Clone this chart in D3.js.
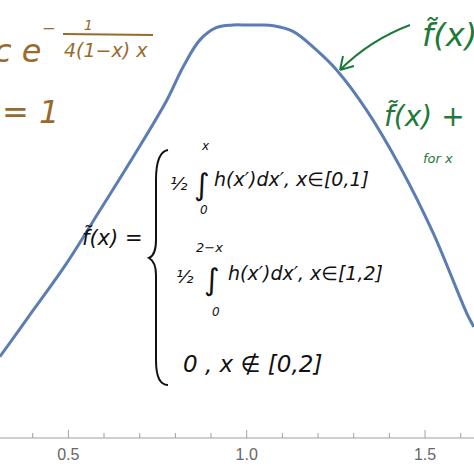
<!DOCTYPE html>
<html><head><meta charset="utf-8">
<script src="https://cdn.jsdelivr.net/npm/d3@7"></script>
<style>body{margin:0;background:#fff}svg{display:block}</style>
</head><body>
<svg id="chart" width="474" height="474"></svg>
<script>
// curve values
const xs = [0.308, 0.402, 0.495, 0.589, 0.682, 0.776, 0.822, 0.869, 0.916, 0.962, 1.0, 1.04, 1.075, 1.131, 1.196, 1.252, 1.336, 1.430, 1.523, 1.617, 1.637];
const ys = [0.197, 0.310, 0.423, 0.552, 0.681, 0.818, 0.899, 0.964, 0.994, 1.0, 1.0, 1.0, 0.998, 0.984, 0.939, 0.891, 0.794, 0.657, 0.496, 0.302, 0.269];
const majorTicks = [0.5, 1.0, 1.5];
const minorTicks = [0.4, 0.6, 0.7, 0.8, 0.9, 1.1, 1.2, 1.3, 1.4, 1.6];

const svg = d3.select('#chart');
const x = d3.scaleLinear().domain([0, 1]).range([-110, 246.7]);
const y = d3.scaleLinear().domain([0, 1]).range([438, 25]);
const axisY = 438;

// axis line and ticks
svg.append('line').attr('x1', 0).attr('x2', 474).attr('y1', axisY).attr('y2', axisY)
    .attr('stroke', '#a0a0a0').attr('stroke-width', 1);
svg.selectAll('.major').data(majorTicks).enter().append('line')
    .attr('x1', d => x(d)).attr('x2', d => x(d)).attr('y1', axisY).attr('y2', axisY - 8)
    .attr('stroke', '#a0a0a0');
svg.selectAll('.minor').data(minorTicks).enter().append('line')
    .attr('x1', d => x(d)).attr('x2', d => x(d)).attr('y1', axisY).attr('y2', axisY - 5)
    .attr('stroke', '#a0a0a0');
svg.selectAll('.lab').data(majorTicks).enter().append('text')
    .attr('x', d => x(d)).attr('y', 460).attr('text-anchor', 'middle')
    .attr('font-family', 'Liberation Sans, Arial').attr('font-size', 16).attr('fill', '#666')
    .text(d => d.toFixed(1));

// curve
const pts = xs.map((d, i) => [d, ys[i]]);
svg.append('path').datum(pts)
    .attr('fill', 'none').attr('stroke', '#5b7db3').attr('stroke-width', 3)
    .attr('d', d3.line().x(d => x(d[0])).y(d => y(d[1])).curve(d3.curveCatmullRom.alpha(0.5)));

// handwritten annotations
function txt(s, px, py, size, color, anchor) {
    svg.append('text').attr('x', px).attr('y', py).attr('font-size', size)
        .attr('font-family', 'DejaVu Sans').attr('font-style', 'italic')
        .attr('fill', color).attr('text-anchor', anchor || 'start').text(s);
}
const brown = '#9a6a2c', green = '#1f7a3a', black = '#111';
txt('c e', -6, 62, 32, brown);
txt('⁻', 42, 42, 26, brown);
txt('1', 84, 30, 14, brown);
svg.append('line').attr('x1', 63).attr('x2', 153).attr('y1', 34).attr('y2', 35)
    .attr('stroke', brown).attr('stroke-width', 2);
txt('4(1−x) x', 64, 57, 19, brown);
txt('= 1', 2, 123, 32, brown);

txt('f̃(x)', 422, 46, 32, green);
svg.append('path').attr('d', 'M410,25 Q370,40 340,70 M340,70 L343,56 M340,70 L354,66')
    .attr('fill', 'none').attr('stroke', green).attr('stroke-width', 2);
txt('f̃(x) + f̃', 384, 126, 28, green);
txt('for x', 423, 163, 13, green);

txt('f̃(x) =', 82, 245, 21, black);
svg.append('path').attr('d', 'M168,150 Q156,152 156,180 L156,240 Q156,255 149,258 Q156,262 156,275 L156,360 Q156,385 168,385')
    .attr('fill', 'none').attr('stroke', black).attr('stroke-width', 2);
txt('½', 170, 190, 18, black);
txt('∫', 194, 195, 30, black);
txt('x', 202, 150, 12, black);
txt('0', 200, 214, 12, black);
txt("h(x′)dx′,  x∈[0,1]", 214, 186, 19, black);
txt('½', 176, 283, 18, black);
txt('∫', 204, 290, 30, black);
txt('2−x', 196, 252, 13, black);
txt('0', 212, 316, 12, black);
txt("h(x′)dx′,  x∈[1,2]", 228, 280, 19, black);
txt('0 ,   x ∉ [0,2]', 183, 372, 23, black);
</script>
</body></html>
